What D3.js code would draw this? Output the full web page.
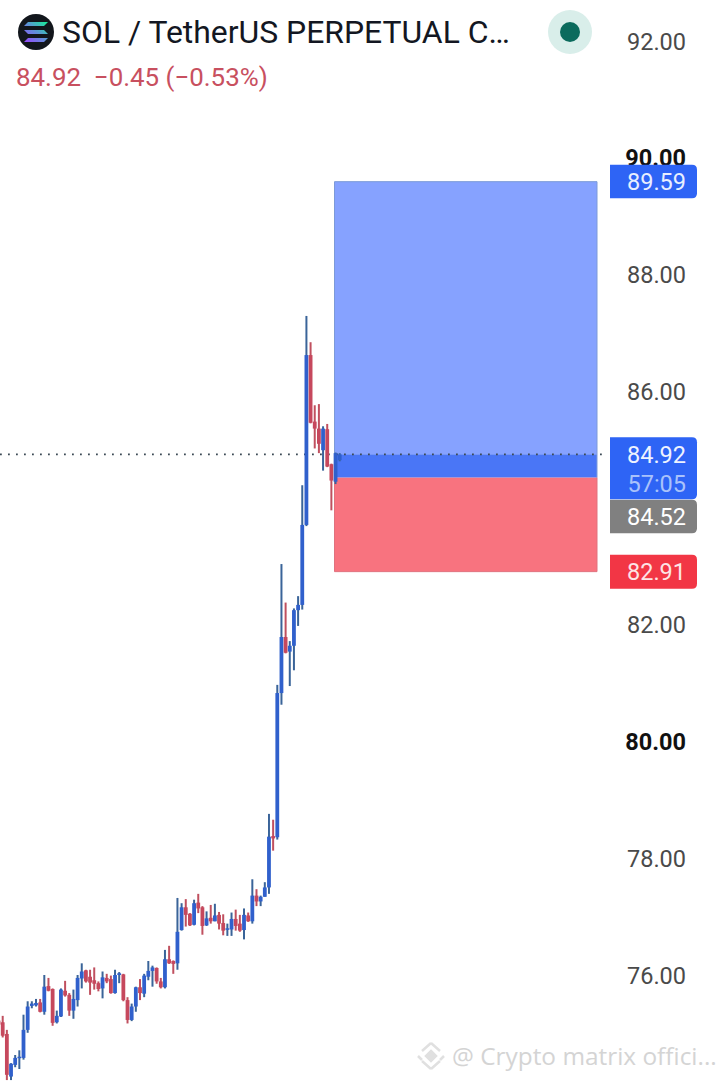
<!DOCTYPE html>
<html>
<head>
<meta charset="utf-8">
<script src="https://cdnjs.cloudflare.com/ajax/libs/d3/7.8.5/d3.min.js"></script>
<style>
  html, body { margin: 0; padding: 0; background: #fff; }
  svg { display: block; font-family: Roboto, sans-serif; }
  .axis path, .axis line { display: none; }
</style>
</head>
<body>
<svg id="chart" width="719" height="1081"></svg>
<script>
var opens = [75.22,
  75.19, 74.99, 74.26, 74.46, 74.58, 74.58, 75.06, 75.47, 75.48, 75.53,
  75.37, 75.81, 75.76, 75.19, 75.29, 75.73, 75.66, 75.39, 75.57, 75.94,
  76.08, 75.97, 75.91, 75.86, 75.77, 75.95, 75.93, 75.69, 76.00, 76.01,
  75.57, 75.23, 75.46, 75.79, 75.68, 75.97, 76.07, 76.12, 75.89, 75.79,
  76.27, 76.24, 76.20, 76.77, 77.16, 77.05, 76.86, 77.24, 77.16, 76.85,
  76.98, 76.92, 77.03, 76.89, 76.78, 76.78, 76.96, 76.88, 76.77, 77.02,
  76.92, 77.36, 77.26, 77.34, 77.50, 78.38, 78.36, 80.83, 81.79, 81.54,
  81.64, 82.25, 82.34, 83.71, 86.62, 85.48, 85.36, 84.99, 85.35, 84.75,
  84.45, 84.82];
var closes = [75.15,
  74.96, 74.29, 74.48, 74.58, 74.60, 75.06, 75.46, 75.51, 75.52, 75.37,
  75.80, 75.73, 75.18, 75.30, 75.75, 75.65, 75.39, 75.59, 75.95, 76.06,
  75.89, 75.87, 75.85, 75.76, 75.96, 75.89, 75.69, 76.00, 76.03, 75.57,
  75.23, 75.46, 75.79, 75.69, 75.99, 76.07, 76.13, 75.89, 75.79, 76.27,
  76.20, 76.19, 76.74, 77.16, 77.03, 76.85, 77.23, 77.14, 76.84, 76.97,
  76.92, 77.02, 76.88, 76.76, 76.80, 76.96, 76.84, 76.76, 77.03, 76.92,
  77.36, 77.26, 77.34, 77.50, 78.37, 78.34, 80.83, 81.79, 81.52, 81.64,
  82.25, 82.34, 83.71, 86.62, 85.46, 85.36, 85.10, 85.36, 84.71, 84.47,
  84.94, 84.92];
var highs = [75.25,
  75.30, 75.06, 74.49, 74.63, 74.71, 75.32, 75.55, 75.55, 75.59, 75.59,
  76.00, 75.95, 75.77, 75.39, 75.77, 75.90, 75.69, 75.75, 76.00, 76.20,
  76.09, 76.09, 76.13, 75.89, 76.06, 76.02, 75.99, 76.09, 76.05, 76.02,
  75.62, 75.51, 75.80, 75.93, 76.02, 76.24, 76.16, 76.13, 75.95, 76.43,
  76.50, 76.25, 77.32, 77.23, 77.30, 77.06, 77.29, 77.39, 77.18, 77.09,
  77.20, 77.22, 77.08, 77.04, 76.88, 77.07, 77.12, 77.03, 77.14, 77.07,
  77.64, 77.47, 77.36, 77.59, 78.76, 78.66, 80.97, 83.04, 82.38, 81.72,
  82.28, 82.49, 84.39, 87.29, 86.84, 85.76, 85.78, 85.40, 85.44, 84.76,
  84.95, 84.94];
var lows = [75.10,
  74.93, 74.20, 74.20, 74.42, 74.39, 74.55, 75.01, 75.43, 75.46, 75.36,
  75.32, 75.72, 75.13, 75.17, 75.28, 75.63, 75.30, 75.25, 75.46, 75.77,
  75.87, 75.66, 75.75, 75.72, 75.60, 75.86, 75.68, 75.68, 75.86, 75.55,
  75.17, 75.21, 75.37, 75.57, 75.62, 75.91, 75.80, 75.85, 75.77, 75.77,
  76.19, 76.02, 76.09, 76.76, 76.83, 76.84, 76.85, 77.06, 76.69, 76.84,
  76.88, 76.92, 76.78, 76.68, 76.67, 76.67, 76.76, 76.74, 76.61, 76.91,
  76.88, 77.18, 77.18, 77.34, 77.39, 78.13, 78.32, 80.63, 81.51, 80.95,
  81.22, 81.98, 82.26, 83.69, 85.45, 85.02, 84.94, 84.64, 84.70, 83.96,
  84.41, 84.80];

var priceTicks = [92, 90, 88, 86, 82, 80, 78, 76];
var boldTicks = [90, 80];

var lastPrice = 84.92;
var targetPrice = 89.59;
var entryPrice = 84.52;
var stopPrice = 82.91;
var countdown = '57:05';

var title = 'SOL / TetherUS PERPETUAL C…';
var quote = '84.92  −0.45 (−0.53%)';
var watermark = '@ Crypto matrix offici...';

var upColor = '#3060cc',
    upWick = '#3a6499',
    downColor = '#c6485d',
    downWick = '#c0505f';

var svg = d3.select('#chart');

var y = d3.scaleLinear().domain([92, 76]).range([41, 975]);
var x = d3.scaleLinear().domain([0, opens.length - 1]).range([-1.46, 339.7]);

// position tool, sits under the candles
var toolLeft = 334.5, toolRight = 597;
var zones = [
  {from: targetPrice, to: lastPrice, fill: '#86a2ff'},
  {from: lastPrice, to: entryPrice, fill: '#4a76f6'},
  {from: entryPrice, to: stopPrice, fill: '#f8737f'}
];
svg.append('g').selectAll('rect').data(zones).join('rect')
    .attr('x', toolLeft)
    .attr('width', toolRight - toolLeft)
    .attr('y', function(d) { return y(d.from); })
    .attr('height', function(d) { return y(d.to) - y(d.from); })
    .attr('fill', function(d) { return d.fill; });

svg.append('path')
    .attr('d', 'M' + toolLeft + ',' + y(entryPrice) + 'V' + y(targetPrice) + 'H' + toolRight + 'V' + y(entryPrice))
    .attr('fill', 'none')
    .attr('stroke', '#7c9ad8')
    .attr('stroke-width', 1);
svg.append('path')
    .attr('d', 'M' + toolLeft + ',' + y(entryPrice) + 'V' + y(stopPrice) + 'H' + toolRight + 'V' + y(entryPrice))
    .attr('fill', 'none')
    .attr('stroke', '#e0727e')
    .attr('stroke-width', 1);

// last price line
svg.append('line')
    .attr('x1', 0).attr('x2', 606)
    .attr('y1', y(lastPrice)).attr('y2', y(lastPrice))
    .attr('stroke', '#3c4a55')
    .attr('stroke-width', 1.8)
    .attr('stroke-dasharray', '1.8,6.2');

// candles
var candles = svg.append('g').selectAll('g').data(opens).join('g');

candles.append('line')
    .attr('x1', function(d, i) { return x(i); })
    .attr('x2', function(d, i) { return x(i); })
    .attr('y1', function(d, i) { return y(highs[i]); })
    .attr('y2', function(d, i) { return y(lows[i]); })
    .attr('stroke', function(d, i) { return closes[i] >= d ? upWick : downWick; })
    .attr('stroke-width', 2);

candles.append('rect')
    .attr('x', function(d, i) { return x(i) - 1.9; })
    .attr('width', 3.8)
    .attr('y', function(d, i) { return y(Math.max(d, closes[i])); })
    .attr('height', function(d, i) { return Math.max(1.5, Math.abs(y(d) - y(closes[i]))); })
    .attr('fill', function(d, i) { return closes[i] >= d ? upColor : downColor; });

// price axis
var axis = d3.axisRight(y)
    .tickValues(priceTicks)
    .tickFormat(d3.format('.2f'))
    .tickSize(0)
    .tickPadding(0);

var axisG = svg.append('g').attr('class', 'axis')
    .attr('transform', 'translate(686,0)')
    .call(axis);

axisG.selectAll('text')
    .attr('text-anchor', 'end')
    .attr('x', 0)
    .attr('dy', '0.35em')
    .style('font-family', 'Roboto, sans-serif')
    .style('font-size', '23.5px')
    .style('font-weight', function(d) { return boldTicks.indexOf(d) >= 0 ? 700 : 400; })
    .style('fill', function(d) { return boldTicks.indexOf(d) >= 0 ? '#111' : '#4a4a4a'; });

// price labels, flat on the left and rounded on the right
function labelPath(top, bottom) {
  var l = 610, r = 697, c = 5;
  return 'M' + l + ',' + top + 'H' + (r - c) + 'Q' + r + ',' + top + ' ' + r + ',' + (top + c) +
      'V' + (bottom - c) + 'Q' + r + ',' + bottom + ' ' + (r - c) + ',' + bottom + 'H' + l + 'Z';
}

function labelText(text, cy, color) {
  svg.append('text').attr('x', 686).attr('y', cy).attr('dy', '0.35em')
      .attr('text-anchor', 'end').attr('font-size', 23.5)
      .attr('fill', color).text(text);
}

var fmt = d3.format('.2f');

svg.append('path').attr('d', labelPath(y(targetPrice) - 17, y(targetPrice) + 16.5)).attr('fill', '#2e64f5');
labelText(fmt(targetPrice), y(targetPrice), '#e8efff');

svg.append('path').attr('d', labelPath(y(stopPrice) - 17, y(stopPrice) + 17)).attr('fill', '#f23645');
labelText(fmt(stopPrice), y(stopPrice) + 0.5, '#fde3e5');

// last price box pushes the entry label below itself
var lastBottom = y(lastPrice) + 45;
svg.append('path').attr('d', labelPath(lastBottom + 0.5, lastBottom + 34)).attr('fill', '#808080');
labelText(fmt(entryPrice), lastBottom + 17, '#fff');

svg.append('path').attr('d', labelPath(y(lastPrice) - 17, lastBottom)).attr('fill', '#2e64f5');
labelText(fmt(lastPrice), y(lastPrice), '#eef3ff');
labelText(countdown, y(lastPrice) + 29, '#a9c2fb');

// header
var defs = svg.append('defs');
var grad = defs.append('linearGradient').attr('id', 'solGrad')
    .attr('x1', '0%').attr('y1', '100%').attr('x2', '100%').attr('y2', '0%');
grad.append('stop').attr('offset', '0%').attr('stop-color', '#9945ff');
grad.append('stop').attr('offset', '50%').attr('stop-color', '#5f8fd8');
grad.append('stop').attr('offset', '100%').attr('stop-color', '#14f195');

var logo = svg.append('g').attr('transform', 'translate(36,32)');
logo.append('circle').attr('r', 18).attr('fill', '#12161c');
logo.append('path')
    .attr('d', 'M-8,-10H12L8,-6H-12ZM-12,-2H8L12,2H-8ZM-8,6H12L8,10H-12Z')
    .attr('fill', 'url(#solGrad)');

svg.append('text').attr('x', 62).attr('y', 43)
    .attr('font-size', 31.9).attr('fill', '#131722').text(title);
svg.append('text').attr('x', 16).attr('y', 86)
    .attr('font-size', 25.9).attr('fill', '#c8505f')
    .attr('xml:space', 'preserve').style('white-space', 'pre').text(quote);

svg.append('circle').attr('cx', 570).attr('cy', 32).attr('r', 22).attr('fill', '#d9eeea');
svg.append('circle').attr('cx', 570).attr('cy', 32).attr('r', 10).attr('fill', '#0b6b5d');

// watermark
var mark = svg.append('g').attr('transform', 'translate(431,1056)')
    .attr('fill', 'none').attr('stroke', '#e0e0e0').attr('stroke-width', 2.5);
mark.append('path').attr('d', 'M0,-13L9,-5M0,-13L-9,-5M-13,0L-9,4M13,0L9,4M0,13L9,5M0,13L-9,5');
mark.append('path').attr('d', 'M0,-5L5,0L0,5L-5,0Z').attr('fill', '#e0e0e0');

svg.append('text').attr('x', 452).attr('y', 1065)
    .style('font-family', '"Open Sans", sans-serif')
    .attr('font-size', 24.4).attr('fill', '#d4d4d4').text(watermark);
</script>
</body>
</html>
